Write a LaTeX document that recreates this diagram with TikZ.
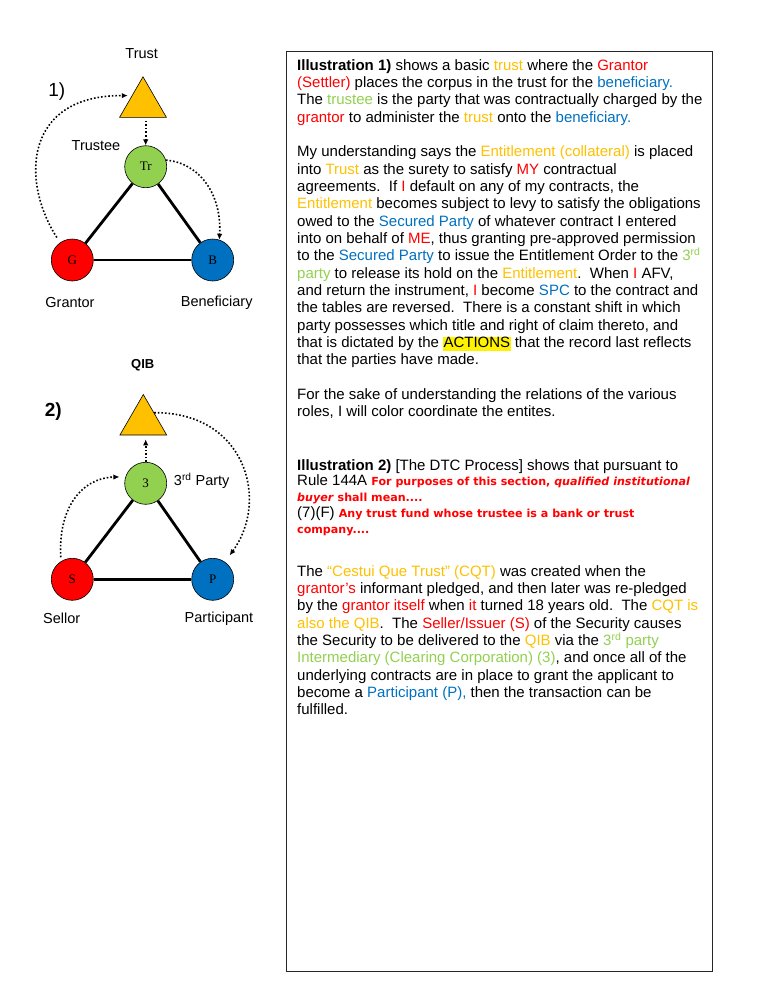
\documentclass[tikz,border=0pt]{standalone}
\usepackage{fontspec}
\setmainfont{Liberation Sans}
\newfontfamily\rulefont{DejaVu Sans}
\newfontfamily\letterfont{Liberation Serif}
\usepackage{xcolor}
\usetikzlibrary{shapes,arrows.meta,positioning}

\definecolor{qorange}{HTML}{FFC000}
\definecolor{qgreen}{HTML}{92D050}
\definecolor{qred}{HTML}{FF0000}
\definecolor{qblue}{HTML}{0070C0}
\newcommand{\Yw}[1]{\textcolor{qorange}{#1}}
\newcommand{\Gw}[1]{\textcolor{qgreen}{#1}}
\newcommand{\Rw}[1]{\textcolor{qred}{#1}}
\newcommand{\Bw}[1]{\textcolor{qblue}{#1}}
\newcommand{\rulew}[1]{{\rulefont\bfseries\fontsize{11.1}{12}\selectfont\color{qred}#1}}
\frenchspacing

\begin{document}
\begin{tikzpicture}[x=1pt,y=-1pt,
  party/.style={circle,draw=black,line width=0.6pt,minimum size=42pt,inner sep=0pt,
    font=\letterfont\fontsize{13}{13}\selectfont},
  roletri/.style={regular polygon,regular polygon sides=3,draw=black,line width=0.6pt,
    fill=qorange,minimum size=54pt,inner sep=0pt},
  flow/.style={dotted,line width=1.6pt,-{Latex[length=6pt,width=5.5pt]}},
  tie/.style={line width=2.8pt},
  rolelabel/.style={font=\fontsize{14.5}{17}\selectfont},
  bodytext/.style={align=left,inner sep=0pt,anchor=base west,
    font=\fontsize{15}{17.35}\selectfont}]

\useasboundingbox (0,0) rectangle (768,994);

% Illustration 1: trust
\node[rolelabel] (trustlbl) at (141.7,53.3) {Trust};
\node[font=\fontsize{19}{19}\selectfont] (num1) at (56.7,91.7) {1)};
\node[roletri] (T1) at (143,103.8) {};
\node[party,fill=qgreen] (Tr) at (145.7,166.7) {Tr};
\node[party,fill=qred] (G) at (72.3,260) {G};
\node[party,fill=qblue] (B) at (212.7,260) {B};
\node[rolelabel] (trusteelbl) at (96,146) {Trustee};
\node[rolelabel] (grantorlbl) at (70,302.7) {Grantor};
\node[rolelabel] (benlbl) at (216.7,302.7) {Beneficiary};

\draw[tie] (G) -- (Tr);
\draw[tie] (Tr) -- (B);
\draw[tie] (G) -- (B);

\draw[flow,shorten <=3pt] (Tr.north |- T1.south) -- (Tr.north);
\draw[flow,shorten <=6pt,shorten >=4pt] (G.125) .. controls (20,180) and (25,95) .. (T1.144);
\draw[flow] (Tr.18) .. controls (200,163) and (222,195) .. (B.72);

% Illustration 2: QIB
\node[font=\bfseries\fontsize{13}{13}\selectfont] (qiblbl) at (142.7,365) {QIB};
\node[font=\bfseries\fontsize{19}{19}\selectfont] (num2) at (53.3,411.7) {2)};
\node[roletri] (T2) at (143.3,421.5) {};
\node[party,fill=qgreen] (C3) at (145.7,483.3) {3};
\node[party,fill=qred] (S) at (72.3,579.3) {S};
\node[party,fill=qblue] (P) at (212.7,579.3) {P};
\node[rolelabel] (thirdlbl) at (201.7,481) {3\textsuperscript{rd} Party};
\node[rolelabel] (sellorlbl) at (61.7,618.3) {Sellor};
\node[rolelabel] (partlbl) at (219,618.3) {Participant};

\draw[tie] (S) -- (C3);
\draw[tie] (C3) -- (P);
\draw[tie] (S) -- (P);

\draw[flow,shorten >=4pt] (C3.north) -- (C3.north |- T2.south);
\draw[flow,shorten <=4pt,shorten >=6pt] (S.122) .. controls (58,510) and (80,478) .. (C3.162);
\draw[flow,shorten >=8pt] (T2.39) .. controls (245,412) and (270,500) .. (P.55);

% Text frame
\draw[line width=0.8pt,black!85] (286.7,51) rectangle (712.7,971.7);

% paragraphs, placed at the baseline of their last line
\node[bodytext] (para1) at (297,122.05) {%
\textbf{Illustration 1)} shows a basic \Yw{trust} where the \Rw{Grantor}\\
\Rw{(Settler)} places the corpus in the trust for the \Bw{beneficiary.}\\
The \Gw{trustee} is the party that was contractually charged by the\\
\Rw{grantor} to administer the \Yw{trust} onto the \Bw{beneficiary.}};

\node[bodytext] (para2) at (297,364.9) {%
My understanding says the \Yw{Entitlement (collateral)} is placed\\
into \Yw{Trust} as the surety to satisfy \Rw{MY} contractual\\
agreements.~ If \Rw{I} default on any of my contracts, the\\
\Yw{Entitlement} becomes subject to levy to satisfy the obligations\\
owed to the \Bw{Secured Party} of whatever contract I entered\\
into on behalf of \Rw{ME}, thus granting pre-approved permission\\
to the \Bw{Secured Party} to issue the Entitlement Order to the \Gw{3\textsuperscript{rd}}\\
\Gw{party} to release its hold on the \Yw{Entitlement}.~ When \Rw{I} AFV,\\
and return the instrument, \Rw{I} become \Bw{SPC} to the contract and\\
the tables are reversed.~ There is a constant shift in which\\
party possesses which title and right of claim thereto, and\\
that is dictated by the {\setlength{\fboxsep}{0.4pt}\colorbox{yellow}{\vphantom{Ag}ACTIONS}} that the record last reflects\\
that the parties have made.};

\node[bodytext] (para3) at (297,416.35) {%
For the sake of understanding the relations of the various\\
roles, I will color coordinate the entites.};

\node[bodytext,font=\fontsize{15}{15.75}\selectfont] (para4) at (297,533) {%
\textbf{Illustration 2)} [The DTC Process] shows that pursuant to\\
Rule 144A \rulew{For purposes of this section, \textit{qualified institutional}}\\
\rulew{\textit{buyer} shall mean....}\\
(7)(F) \rulew{Any trust fund whose trustee is a bank or trust}\\
\rulew{company....}};

\node[bodytext] (para5) at (297,714.8) {%
The \Yw{``Cestui Que Trust'' (CQT)} was created when the\\
\Rw{grantor's} informant pledged, and then later was re-pledged\\
by the \Rw{grantor itself} when \Rw{it} turned 18 years old.~ The \Yw{CQT is}\\
\Yw{also the QIB}.~ The \Rw{Seller/Issuer (S)} of the Security causes\\
the Security to be delivered to the \Yw{QIB} via the \Gw{3\textsuperscript{rd} party}\\
\Gw{Intermediary (Clearing Corporation) (3)}, and once all of the\\
underlying contracts are in place to grant the applicant to\\
become a \Bw{Participant (P),} then the transaction can be\\
fulfilled.};
\end{tikzpicture}
\end{document}
